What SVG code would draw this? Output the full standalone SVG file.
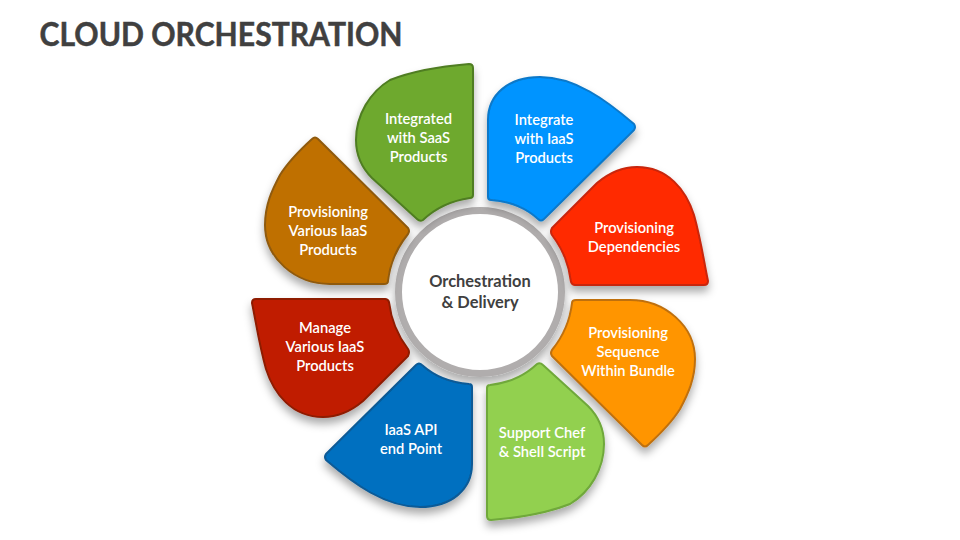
<svg xmlns="http://www.w3.org/2000/svg" width="960" height="540" viewBox="0 0 960 540">
<style>
.p{stroke-width:2;stroke-linejoin:round;filter:url(#sh)}
.t{font-family:Lato,"Liberation Sans",sans-serif;font-size:14.7px;font-weight:600;fill:#fff;text-anchor:middle}
.c{font-family:Lato,"Liberation Sans",sans-serif;font-size:16.4px;font-weight:700;fill:#404040;text-anchor:middle}
</style>
<defs>
<filter id="sh" x="-30%" y="-30%" width="160%" height="170%"><feDropShadow dx="0" dy="6" stdDeviation="4" flood-color="#000" flood-opacity=".33"/></filter>
</defs>
<rect width="960" height="540" fill="#fff"/>
<text id="title" x="39.500" y="46" textLength="363" lengthAdjust="spacingAndGlyphs" style="font-family:Lato,'Liberation Sans',sans-serif;font-size:32px;font-weight:700;fill:#404040;stroke:#404040;stroke-width:.5">CLOUD ORCHESTRATION</text>
<g id="center"><circle cx="480" cy="292" r="81.5" fill="#fff" stroke="#b0adad" stroke-width="7" filter="url(#sh)"/>
<text class="c" x="480" y="287">Orchestration</text><text class="c" x="480" y="308">&amp; Delivery</text></g>
<g id="n-green"><path class="p" fill="#6ea92f" stroke="#4f7d22" d="M473 68V195Q473 198 470 198Q442 202 423 220Q420 222 417 219L372 178C362 168 356 155 356 140C356 115 370 92 390 80C415 70 445 66 469 64Q473 64 473 68Z"/>
<text class="t" x="418.500" y="124">Integrated</text><text class="t" x="418.500" y="143">with SaaS</text><text class="t" x="418.500" y="162">Products</text></g>
<g id="n-blue"><path class="p" fill="#0094ff" stroke="#0a78c8" d="M488 120C488 95 508 77 540 77C575 77 606 100 634 124Q636 127 634 130L544 219Q541 222 538 219Q519 202 491 200Q488 200 488 197Z"/>
<text class="t" x="544" y="125">Integrate</text><text class="t" x="544" y="144">with IaaS</text><text class="t" x="544" y="163">Products</text></g>
<g id="n-red"><path class="p" fill="#ff2a00" stroke="#c8260a" d="M552 228L597 183C610 172 622 167 637 167C668 167 686 190 694 215C701 240 704 262 708 281Q708 285 704 285H575Q572 285 571 282Q568 256 552 235Q550 232 552 228Z"/>
<text class="t" x="634" y="233">Provisioning</text><text class="t" x="634" y="252">Dependencies</text></g>
<g id="n-orange"><path class="p" fill="#ff9500" stroke="#bf7010" d="M648 445Q645 448 642 445L552 356Q550 353 552 350Q569 329 572 303Q572 300 576 300H630C665 300 695 326 695 359C695 379 688 394 680 409C672 422 660 434 648 445Z"/>
<text class="t" x="628" y="338">Provisioning</text><text class="t" x="628" y="357">Sequence</text><text class="t" x="628" y="376">Within Bundle</text></g>
<g id="n-lime"><path class="p" fill="#92d050" stroke="#6fa83a" d="M487 516V388Q487 385 490 385Q518 382 537 364Q540 362 543 365L588 406C598 416 604 429 604 444C604 469 590 492 570 504C545 514 515 518 491 520Q487 520 487 516Z"/>
<text class="t" x="542" y="438">Support Chef</text><text class="t" x="542" y="457">&amp; Shell Script</text></g>
<g id="n-navy"><path class="p" fill="#0070c0" stroke="#0a5a96" d="M472 464C472 489 452 507 420 507C385 507 354 484 326 460Q324 457 326 454L416 365Q419 362 422 365Q441 382 469 384Q472 384 472 387Z"/>
<text class="t" x="411" y="435">IaaS API</text><text class="t" x="411" y="454">end Point</text></g>
<g id="n-darkred"><path class="p" fill="#c01f00" stroke="#8e1a05" d="M408 356L363 401C350 412 338 417 323 417C292 417 274 394 266 369C259 344 256 322 252 303Q252 299 256 299H385Q388 299 389 302Q392 328 408 349Q410 352 408 356Z"/>
<text class="t" x="325" y="333">Manage</text><text class="t" x="325" y="352">Various IaaS</text><text class="t" x="325" y="371">Products</text></g>
<g id="n-brown"><path class="p" fill="#bf7000" stroke="#8f5a10" d="M312 139Q315 136 318 139L408 228Q410 231 408 234Q391 255 388 281Q388 284 384 284H330C295 284 265 258 265 225C265 205 272 190 280 175C288 162 300 150 312 139Z"/>
<text class="t" x="328" y="217">Provisioning</text><text class="t" x="328" y="236">Various IaaS</text><text class="t" x="328" y="255">Products</text></g>
<g id="connectors"/>
</svg>
